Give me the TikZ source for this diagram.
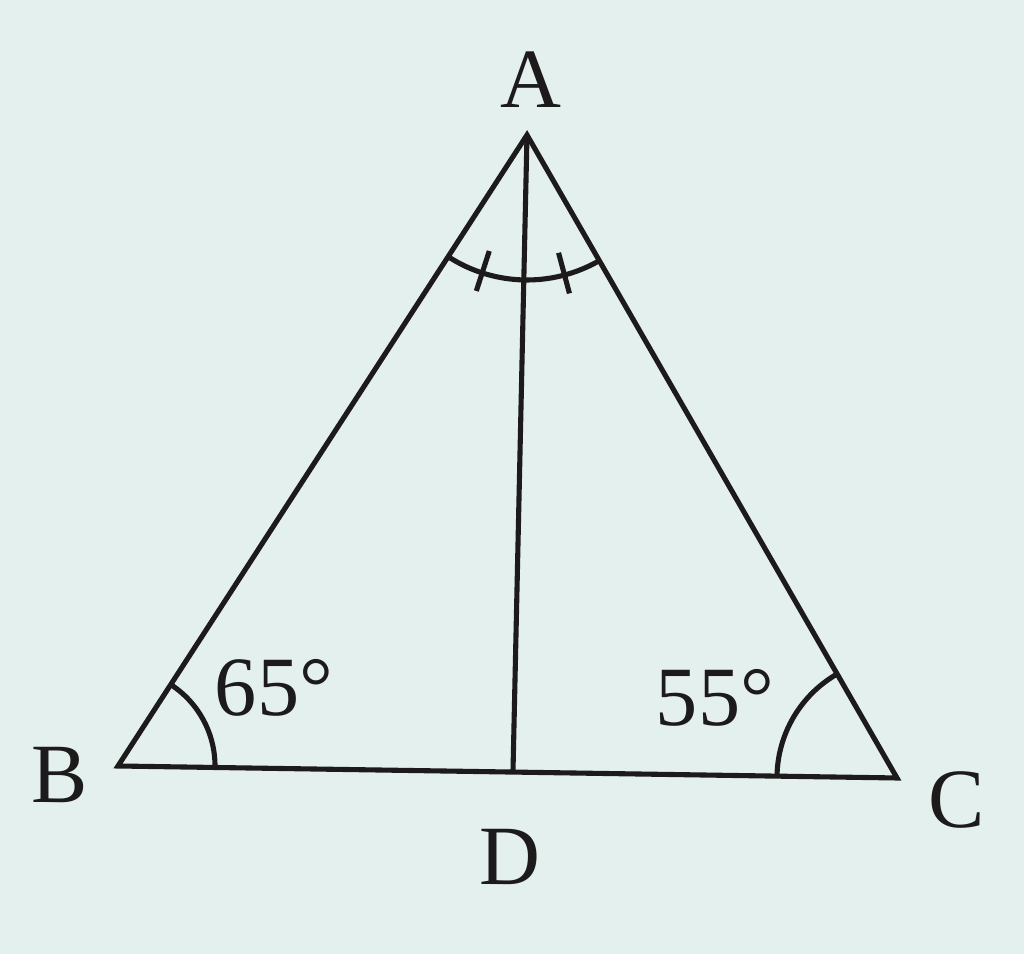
\documentclass[tikz,border=0pt]{standalone}
\usepackage{fontspec}
\setmainfont{Liberation Serif}
\usetikzlibrary{calc}
\usepackage{xcolor}
\definecolor{paper}{RGB}{228,240,237}
\definecolor{ink}{RGB}{28,26,26}
\tikzset{
 edge/.style={ink, line width=1.45pt},
 lbl/.style={ink, inner sep=0, font=\fontsize{24}{28}\selectfont},
}

\begin{document}
\begin{tikzpicture}
\fill[paper] (0,0) rectangle (10.24,-9.54);
\useasboundingbox (0,0) rectangle (10.24,-9.54);
\coordinate (A) at (5.27,-1.35);
\coordinate (B) at (1.18,-7.66);
\coordinate (C) at (8.97,-7.78);
\coordinate (D) at (5.13,-7.71);
\draw[edge, line join=miter] (A) -- (B) -- (C) -- cycle;
\draw[edge] (A) -- (D);
% angle marks
\draw[edge] ([shift=(237:1.45)]A) arc (237:300:1.45);
\foreach \t in {252, 285} {
 \draw[edge] ([shift=(\t:1.22)]A) -- ([shift=(\t:1.64)]A);
}
\draw[edge] ([shift=(0:0.97)]B) arc (0:57:0.97);
\draw[edge] ([shift=(120:1.2)]C) arc (120:179:1.2);
% labels
\node[lbl] (lA) at (5.31,-0.80) {A};
\node[lbl] (lB) at (0.60,-7.75) {B};
\node[lbl] (lC) at (9.57,-8.00) {C};
\node[lbl] (lD) at (5.10,-8.57) {D};
\node[lbl] (aB) at (2.74,-6.88) {65°};
\node[lbl] (aC) at (7.15,-6.98) {55°};
\end{tikzpicture}
\end{document}
